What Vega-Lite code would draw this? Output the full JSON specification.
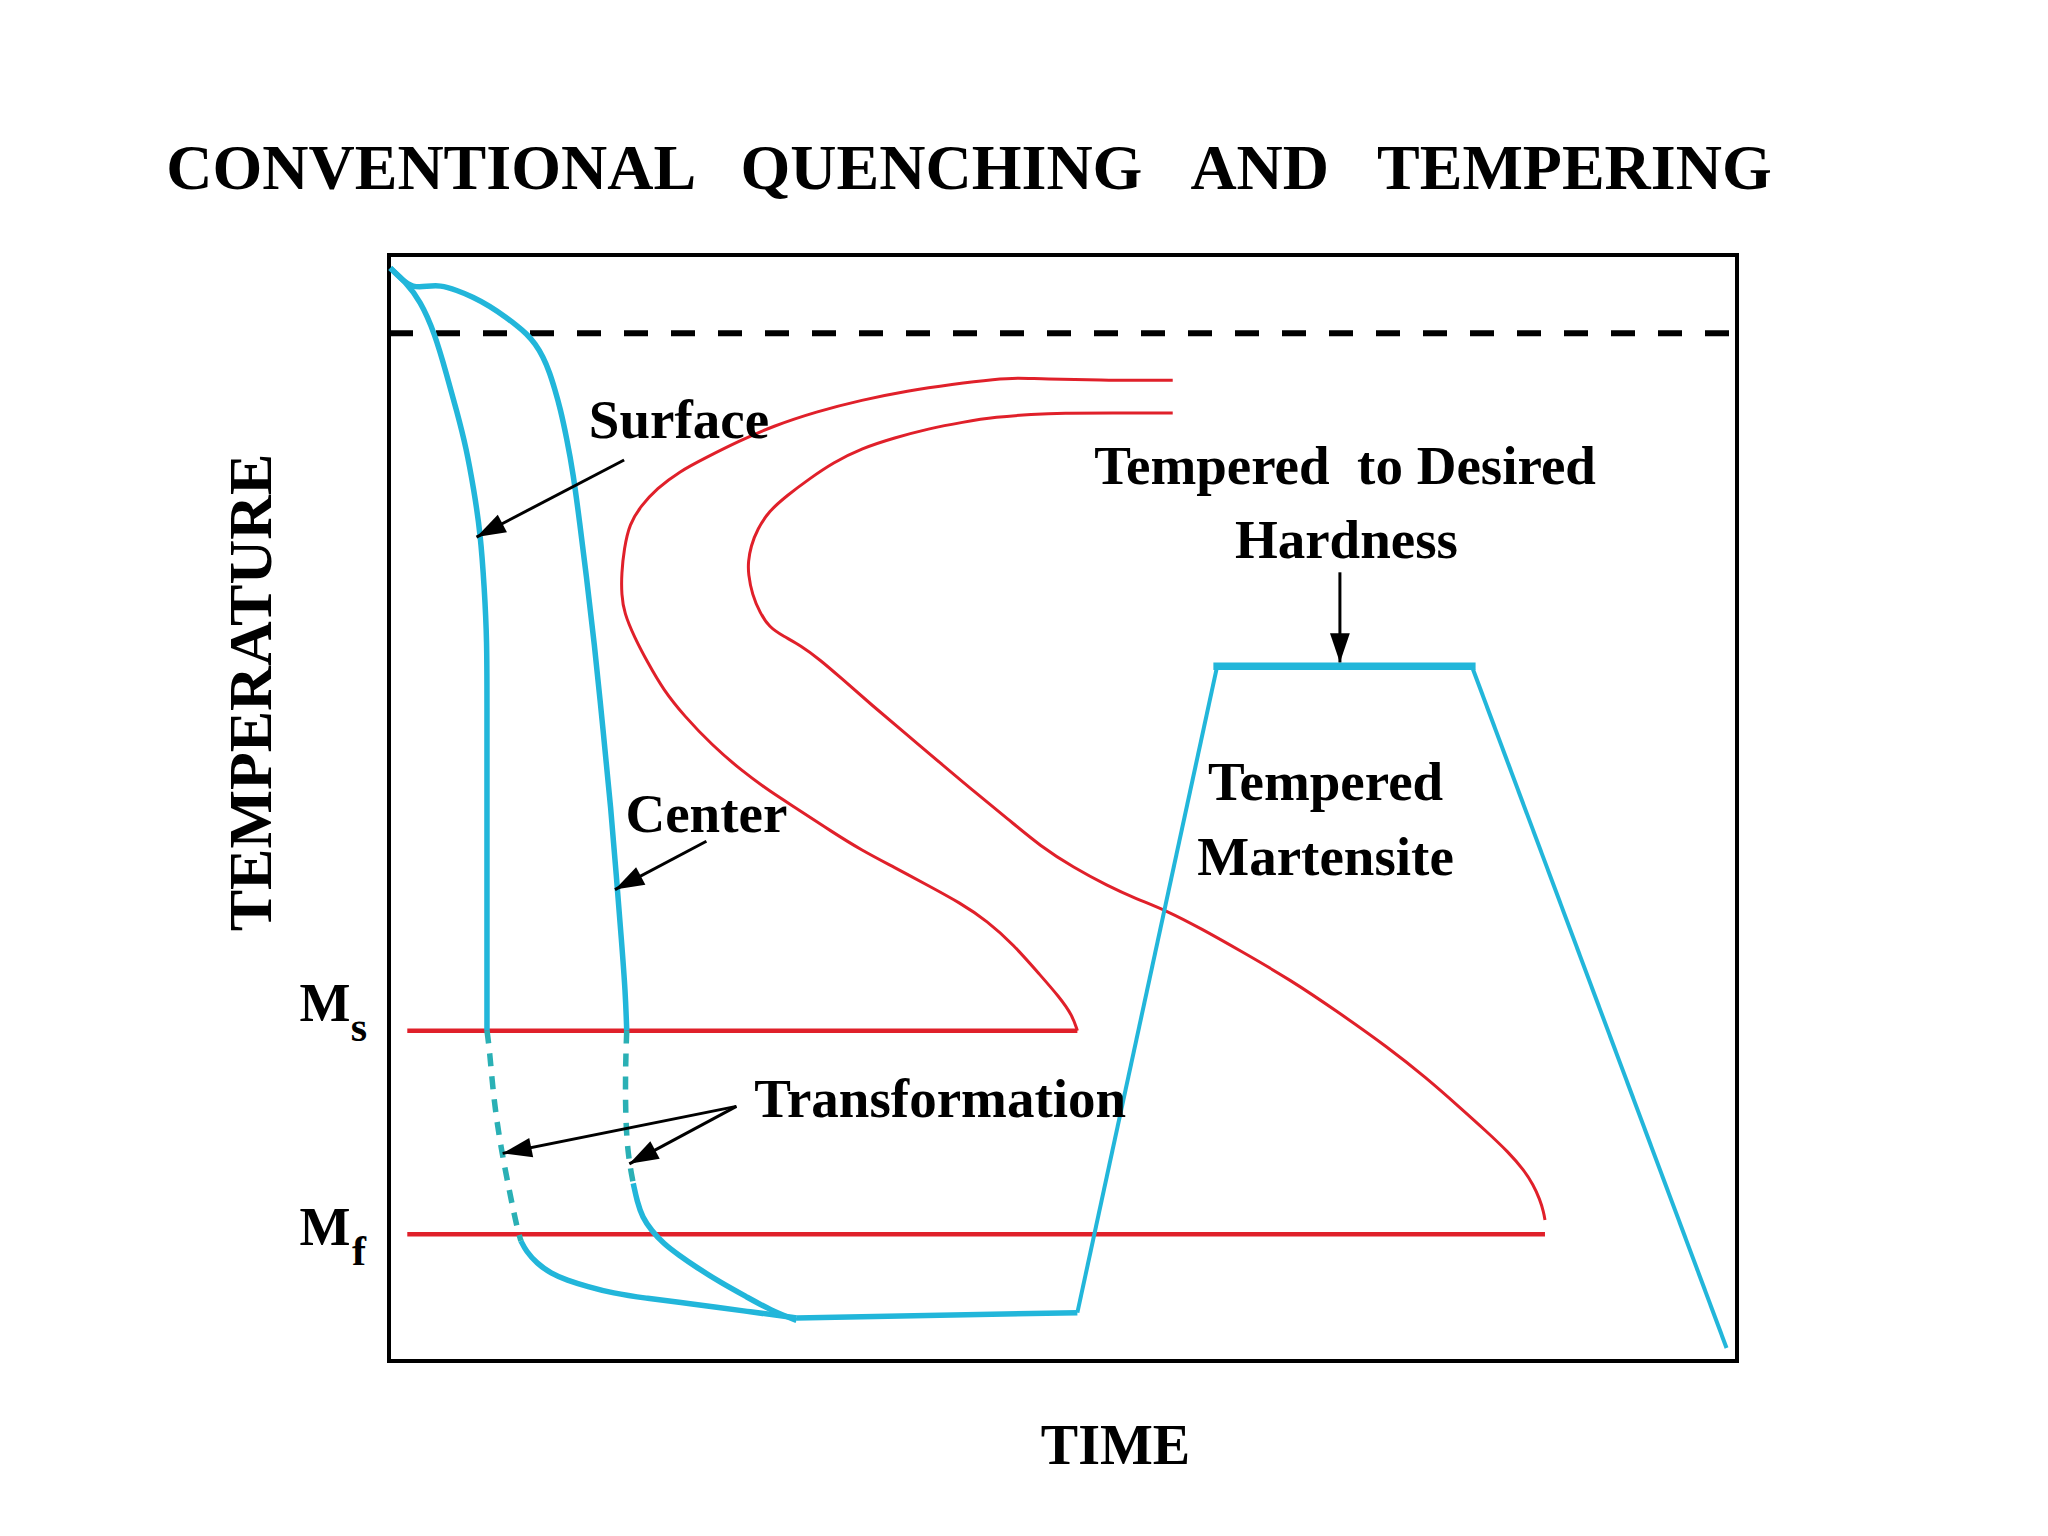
{
  "$schema": "https://vega.github.io/schema/vega-lite/v6.json",
  "width": 1348,
  "height": 1106,
  "autosize": {"type": "none"},
  "padding": {"left": 389, "top": 255, "right": 311, "bottom": 175},
  "background": "white",
  "title": {
    "text": "CONVENTIONAL \u2002QUENCHING \u2002AND \u2002TEMPERING",
    "font": "Liberation Serif",
    "fontSize": 64,
    "fontWeight": "bold",
    "color": "black",
    "anchor": "middle",
    "frame": "group",
    "dx": -94,
    "dy": 56,
    "offset": 58,
    "baseline": "alphabetic"
  },
  "config": {
    "view": {"stroke": "black", "strokeWidth": 4},
    "text": {"font": "Liberation Serif", "fontWeight": "bold", "color": "black"}
  },
  "datasets": {
    "curves": [
      {"series": "austenitizing", "i": 0, "time": 0, "temp": 787},
      {"series": "austenitizing", "i": 1, "time": 1032, "temp": 787},

      {"series": "surface", "i": 0, "time": 1, "temp": 837},
      {"series": "surface", "i": 1, "time": 12, "temp": 827},
      {"series": "surface", "i": 2, "time": 24, "temp": 812},
      {"series": "surface", "i": 3, "time": 35, "temp": 787},
      {"series": "surface", "i": 4, "time": 44, "temp": 756},
      {"series": "surface", "i": 5, "time": 52, "temp": 727},
      {"series": "surface", "i": 6, "time": 59, "temp": 700},
      {"series": "surface", "i": 7, "time": 65, "temp": 667},
      {"series": "surface", "i": 8, "time": 70, "temp": 634},
      {"series": "surface", "i": 9, "time": 73, "temp": 592},
      {"series": "surface", "i": 10, "time": 75, "temp": 552},
      {"series": "surface", "i": 11, "time": 75, "temp": 502},
      {"series": "surface", "i": 12, "time": 75, "temp": 442},
      {"series": "surface", "i": 13, "time": 75, "temp": 382},
      {"series": "surface", "i": 14, "time": 75, "temp": 315},
      {"series": "surface", "i": 15, "time": 75, "temp": 253},

      {"series": "surface_transforming", "i": 0, "time": 75, "temp": 253},
      {"series": "surface_transforming", "i": 1, "time": 77, "temp": 238},
      {"series": "surface_transforming", "i": 2, "time": 80, "temp": 202},
      {"series": "surface_transforming", "i": 3, "time": 85, "temp": 167},
      {"series": "surface_transforming", "i": 4, "time": 92, "temp": 131},
      {"series": "surface_transforming", "i": 5, "time": 98, "temp": 102},
      {"series": "surface_transforming", "i": 6, "time": 101, "temp": 92},

      {"series": "surface_cold", "i": 0, "time": 101, "temp": 92},
      {"series": "surface_cold", "i": 1, "time": 105, "temp": 84},
      {"series": "surface_cold", "i": 2, "time": 113, "temp": 75},
      {"series": "surface_cold", "i": 3, "time": 124, "temp": 67},
      {"series": "surface_cold", "i": 4, "time": 136, "temp": 62},
      {"series": "surface_cold", "i": 5, "time": 152, "temp": 57},
      {"series": "surface_cold", "i": 6, "time": 171, "temp": 52},
      {"series": "surface_cold", "i": 7, "time": 197, "temp": 48},
      {"series": "surface_cold", "i": 8, "time": 223, "temp": 45},
      {"series": "surface_cold", "i": 9, "time": 252, "temp": 41},
      {"series": "surface_cold", "i": 10, "time": 274, "temp": 38},
      {"series": "surface_cold", "i": 11, "time": 297, "temp": 35},
      {"series": "surface_cold", "i": 12, "time": 312, "temp": 33},

      {"series": "center", "i": 0, "time": 1, "temp": 837},
      {"series": "center", "i": 1, "time": 10, "temp": 828},
      {"series": "center", "i": 2, "time": 18, "temp": 822},
      {"series": "center", "i": 3, "time": 29, "temp": 823},
      {"series": "center", "i": 4, "time": 39, "temp": 824},
      {"series": "center", "i": 5, "time": 52, "temp": 820},
      {"series": "center", "i": 6, "time": 64, "temp": 815},
      {"series": "center", "i": 7, "time": 77, "temp": 808},
      {"series": "center", "i": 8, "time": 90, "temp": 799},
      {"series": "center", "i": 9, "time": 99, "temp": 792},
      {"series": "center", "i": 10, "time": 105, "temp": 787},
      {"series": "center", "i": 11, "time": 112, "temp": 779},
      {"series": "center", "i": 12, "time": 118, "temp": 769},
      {"series": "center", "i": 13, "time": 123, "temp": 757},
      {"series": "center", "i": 14, "time": 127, "temp": 744},
      {"series": "center", "i": 15, "time": 131, "temp": 730},
      {"series": "center", "i": 16, "time": 136, "temp": 707},
      {"series": "center", "i": 17, "time": 141, "temp": 680},
      {"series": "center", "i": 18, "time": 146, "temp": 642},
      {"series": "center", "i": 19, "time": 151, "temp": 602},
      {"series": "center", "i": 20, "time": 157, "temp": 552},
      {"series": "center", "i": 21, "time": 164, "temp": 482},
      {"series": "center", "i": 22, "time": 170, "temp": 422},
      {"series": "center", "i": 23, "time": 174, "temp": 372},
      {"series": "center", "i": 24, "time": 178, "temp": 322},
      {"series": "center", "i": 25, "time": 181, "temp": 282},
      {"series": "center", "i": 26, "time": 182, "temp": 253},

      {"series": "center_transforming", "i": 0, "time": 182, "temp": 253},
      {"series": "center_transforming", "i": 1, "time": 181, "temp": 225},
      {"series": "center_transforming", "i": 2, "time": 181, "temp": 187},
      {"series": "center_transforming", "i": 3, "time": 183, "temp": 157},
      {"series": "center_transforming", "i": 4, "time": 187, "temp": 136},

      {"series": "center_cold", "i": 0, "time": 187, "temp": 136},
      {"series": "center_cold", "i": 1, "time": 190, "temp": 122},
      {"series": "center_cold", "i": 2, "time": 194, "temp": 110},
      {"series": "center_cold", "i": 3, "time": 201, "temp": 100},
      {"series": "center_cold", "i": 4, "time": 210, "temp": 90},
      {"series": "center_cold", "i": 5, "time": 222, "temp": 81},
      {"series": "center_cold", "i": 6, "time": 235, "temp": 72},
      {"series": "center_cold", "i": 7, "time": 254, "temp": 60},
      {"series": "center_cold", "i": 8, "time": 274, "temp": 49},
      {"series": "center_cold", "i": 9, "time": 292, "temp": 39},
      {"series": "center_cold", "i": 10, "time": 312, "temp": 31},

      {"series": "hold", "i": 0, "time": 312, "temp": 33},
      {"series": "hold", "i": 1, "time": 527, "temp": 37},
      {"series": "reheat", "i": 0, "time": 527, "temp": 37},
      {"series": "reheat", "i": 1, "time": 634, "temp": 532},
      {"series": "temper", "i": 0, "time": 634, "temp": 532},
      {"series": "temper", "i": 1, "time": 829, "temp": 532},
      {"series": "cool", "i": 0, "time": 829, "temp": 532},
      {"series": "cool", "i": 1, "time": 1024, "temp": 10},

      {"series": "Ms", "i": 0, "time": 14, "temp": 253},
      {"series": "Ms", "i": 1, "time": 527, "temp": 253},
      {"series": "Mf", "i": 0, "time": 14, "temp": 97},
      {"series": "Mf", "i": 1, "time": 885, "temp": 97},

      {"series": "start", "i": 0, "time": 527, "temp": 253},
      {"series": "start", "i": 1, "time": 523, "temp": 265},
      {"series": "start", "i": 2, "time": 513, "temp": 279},
      {"series": "start", "i": 3, "time": 499, "temp": 295},
      {"series": "start", "i": 4, "time": 478, "temp": 319},
      {"series": "start", "i": 5, "time": 458, "temp": 337},
      {"series": "start", "i": 6, "time": 437, "temp": 351},
      {"series": "start", "i": 7, "time": 413, "temp": 364},
      {"series": "start", "i": 8, "time": 387, "temp": 378},
      {"series": "start", "i": 9, "time": 362, "temp": 391},
      {"series": "start", "i": 10, "time": 338, "temp": 406},
      {"series": "start", "i": 11, "time": 314, "temp": 422},
      {"series": "start", "i": 12, "time": 292, "temp": 436},
      {"series": "start", "i": 13, "time": 270, "temp": 452},
      {"series": "start", "i": 14, "time": 247, "temp": 472},
      {"series": "start", "i": 15, "time": 226, "temp": 494},
      {"series": "start", "i": 16, "time": 210, "temp": 514},
      {"series": "start", "i": 17, "time": 198, "temp": 535},
      {"series": "start", "i": 18, "time": 188, "temp": 554},
      {"series": "start", "i": 19, "time": 180, "temp": 573},
      {"series": "start", "i": 20, "time": 178, "temp": 587},
      {"series": "start", "i": 21, "time": 178, "temp": 603},
      {"series": "start", "i": 22, "time": 180, "temp": 622},
      {"series": "start", "i": 23, "time": 184, "temp": 641},
      {"series": "start", "i": 24, "time": 193, "temp": 655},
      {"series": "start", "i": 25, "time": 205, "temp": 668},
      {"series": "start", "i": 26, "time": 222, "temp": 681},
      {"series": "start", "i": 27, "time": 243, "temp": 692},
      {"series": "start", "i": 28, "time": 267, "temp": 704},
      {"series": "start", "i": 29, "time": 294, "temp": 716},
      {"series": "start", "i": 30, "time": 327, "temp": 727},
      {"series": "start", "i": 31, "time": 362, "temp": 736},
      {"series": "start", "i": 32, "time": 397, "temp": 743},
      {"series": "start", "i": 33, "time": 431, "temp": 748},
      {"series": "start", "i": 34, "time": 465, "temp": 752},
      {"series": "start", "i": 35, "time": 482, "temp": 753},
      {"series": "start", "i": 36, "time": 499, "temp": 752},
      {"series": "start", "i": 37, "time": 552, "temp": 751},
      {"series": "start", "i": 38, "time": 600, "temp": 751},

      {"series": "finish", "i": 0, "time": 600, "temp": 726},
      {"series": "finish", "i": 1, "time": 552, "temp": 726},
      {"series": "finish", "i": 2, "time": 516, "temp": 726},
      {"series": "finish", "i": 3, "time": 492, "temp": 725},
      {"series": "finish", "i": 4, "time": 465, "temp": 723},
      {"series": "finish", "i": 5, "time": 439, "temp": 719},
      {"series": "finish", "i": 6, "time": 413, "temp": 714},
      {"series": "finish", "i": 7, "time": 387, "temp": 707},
      {"series": "finish", "i": 8, "time": 362, "temp": 699},
      {"series": "finish", "i": 9, "time": 340, "temp": 688},
      {"series": "finish", "i": 10, "time": 321, "temp": 675},
      {"series": "finish", "i": 11, "time": 305, "temp": 663},
      {"series": "finish", "i": 12, "time": 291, "temp": 651},
      {"series": "finish", "i": 13, "time": 282, "temp": 637},
      {"series": "finish", "i": 14, "time": 277, "temp": 624},
      {"series": "finish", "i": 15, "time": 275, "temp": 612},
      {"series": "finish", "i": 16, "time": 275, "temp": 603},
      {"series": "finish", "i": 17, "time": 278, "temp": 587},
      {"series": "finish", "i": 18, "time": 284, "temp": 573},
      {"series": "finish", "i": 19, "time": 291, "temp": 562},
      {"series": "finish", "i": 20, "time": 302, "temp": 555},
      {"series": "finish", "i": 21, "time": 315, "temp": 548},
      {"series": "finish", "i": 22, "time": 330, "temp": 537},
      {"series": "finish", "i": 23, "time": 345, "temp": 524},
      {"series": "finish", "i": 24, "time": 370, "temp": 502},
      {"series": "finish", "i": 25, "time": 396, "temp": 480},
      {"series": "finish", "i": 26, "time": 422, "temp": 458},
      {"series": "finish", "i": 27, "time": 448, "temp": 436},
      {"series": "finish", "i": 28, "time": 474, "temp": 415},
      {"series": "finish", "i": 29, "time": 499, "temp": 394},
      {"series": "finish", "i": 30, "time": 524, "temp": 378},
      {"series": "finish", "i": 31, "time": 550, "temp": 364},
      {"series": "finish", "i": 32, "time": 572, "temp": 354},
      {"series": "finish", "i": 33, "time": 595, "temp": 345},
      {"series": "finish", "i": 34, "time": 622, "temp": 331},
      {"series": "finish", "i": 35, "time": 652, "temp": 314},
      {"series": "finish", "i": 36, "time": 690, "temp": 292},
      {"series": "finish", "i": 37, "time": 727, "temp": 267},
      {"series": "finish", "i": 38, "time": 765, "temp": 240},
      {"series": "finish", "i": 39, "time": 794, "temp": 217},
      {"series": "finish", "i": 40, "time": 820, "temp": 194},
      {"series": "finish", "i": 41, "time": 840, "temp": 176},
      {"series": "finish", "i": 42, "time": 857, "temp": 160},
      {"series": "finish", "i": 43, "time": 869, "temp": 146},
      {"series": "finish", "i": 44, "time": 876, "temp": 135},
      {"series": "finish", "i": 45, "time": 881, "temp": 124},
      {"series": "finish", "i": 46, "time": 884, "temp": 114},
      {"series": "finish", "i": 47, "time": 885, "temp": 108}
    ],
    "arrows": [
      {"target": "Surface", "time": 67, "temp": 631, "from_time": 180, "from_temp": 690},
      {"target": "Center", "time": 173, "temp": 361, "from_time": 243, "from_temp": 398},
      {"target": "Transformation (surface)", "time": 87, "temp": 159, "from_time": 266, "from_temp": 195},
      {"target": "Transformation (center)", "time": 184, "temp": 151, "from_time": 266, "from_temp": 195},
      {"target": "Desired hardness", "time": 728, "temp": 535, "from_time": 728, "from_temp": 604}
    ],
    "labels": [
      {"text": "Surface", "time": 222, "temp": 707},
      {"text": "Center", "time": 243, "temp": 405},
      {"text": "Transformation", "time": 422, "temp": 187},
      {"text": "Tempered\u2002to Desired", "time": 732, "temp": 672},
      {"text": "Hardness", "time": 733, "temp": 615},
      {"text": "Tempered", "time": 717, "temp": 430},
      {"text": "Martensite", "time": 717, "temp": 372}
    ],
    "martensite_temps": [
      {"sub": "s", "time": -49, "temp": 260},
      {"sub": "f", "time": -49, "temp": 89}
    ]
  },
  "encoding": {
    "x": {
      "field": "time",
      "type": "quantitative",
      "scale": {"domain": [0, 1032], "nice": false, "zero": false},
      "axis": {
        "title": "TIME",
        "domain": false,
        "ticks": false,
        "labels": false,
        "grid": false,
        "titleFont": "Liberation Serif",
        "titleFontSize": 56,
        "titleFontWeight": "bold",
        "titleColor": "black",
        "titleX": 726,
        "titleY": 102,
        "titleAlign": "center",
        "titleBaseline": "alphabetic"
      }
    },
    "y": {
      "field": "temp",
      "type": "quantitative",
      "scale": {"domain": [0, 847], "nice": false, "zero": false},
      "axis": {
        "title": "TEMPERATURE",
        "domain": false,
        "ticks": false,
        "labels": false,
        "grid": false,
        "titleFont": "Liberation Serif",
        "titleFontSize": 62,
        "titleFontWeight": "bold",
        "titleColor": "black",
        "titleAngle": -90,
        "titleX": -119,
        "titleY": 437,
        "titleAlign": "center",
        "titleBaseline": "alphabetic"
      }
    }
  },
  "layer": [
    {
      "data": {"name": "curves"},
      "transform": [{"filter": "datum.series === 'austenitizing'"}],
      "mark": {"type": "line", "color": "black", "strokeWidth": 6, "strokeDash": [24, 23]},
      "encoding": {"order": {"field": "i", "type": "quantitative"}}
    },
    {
      "data": {"name": "curves"},
      "transform": [{"filter": "datum.series === 'Ms' || datum.series === 'Mf'"}],
      "mark": {"type": "line", "color": "#e0202a", "strokeWidth": 4.5},
      "encoding": {"detail": {"field": "series"}, "order": {"field": "i", "type": "quantitative"}}
    },
    {
      "data": {"name": "curves"},
      "transform": [{"filter": "datum.series === 'start' || datum.series === 'finish'"}],
      "mark": {"type": "line", "color": "#e0202a", "strokeWidth": 3, "interpolate": "basis"},
      "encoding": {"detail": {"field": "series"}, "order": {"field": "i", "type": "quantitative"}}
    },
    {
      "data": {"name": "curves"},
      "transform": [{"filter": "datum.series === 'surface' || datum.series === 'surface_cold' || datum.series === 'center' || datum.series === 'center_cold'"}],
      "mark": {"type": "line", "color": "#22b6da", "strokeWidth": 5.5, "interpolate": "basis"},
      "encoding": {"detail": {"field": "series"}, "order": {"field": "i", "type": "quantitative"}}
    },
    {
      "data": {"name": "curves"},
      "transform": [{"filter": "datum.series === 'surface_transforming' || datum.series === 'center_transforming'"}],
      "mark": {"type": "line", "color": "#2ab0b5", "strokeWidth": 5.5, "strokeDash": [13, 10], "interpolate": "basis"},
      "encoding": {"detail": {"field": "series"}, "order": {"field": "i", "type": "quantitative"}}
    },
    {
      "data": {"name": "curves"},
      "transform": [{"filter": "datum.series === 'hold'"}],
      "mark": {"type": "line", "color": "#22b6da", "strokeWidth": 5.5},
      "encoding": {"order": {"field": "i", "type": "quantitative"}}
    },
    {
      "data": {"name": "curves"},
      "transform": [{"filter": "datum.series === 'reheat' || datum.series === 'cool'"}],
      "mark": {"type": "line", "color": "#22b6da", "strokeWidth": 4},
      "encoding": {"detail": {"field": "series"}, "order": {"field": "i", "type": "quantitative"}}
    },
    {
      "data": {"name": "curves"},
      "transform": [{"filter": "datum.series === 'temper'"}],
      "mark": {"type": "line", "color": "#22b6da", "strokeWidth": 7.5, "strokeCap": "square"},
      "encoding": {"order": {"field": "i", "type": "quantitative"}}
    },
    {
      "data": {"name": "arrows"},
      "mark": {"type": "rule", "color": "black", "strokeWidth": 3},
      "encoding": {
        "x2": {"field": "from_time"},
        "y2": {"field": "from_temp"}
      }
    },
    {
      "data": {"name": "arrows"},
      "transform": [
        {"calculate": "atan2(datum.time - datum.from_time, datum.temp - datum.from_temp) * 180 / PI", "as": "heading"}
      ],
      "mark": {
        "type": "point",
        "shape": "M0,0 L-0.34,1 L0.34,1 Z",
        "filled": true,
        "color": "black",
        "opacity": 1,
        "size": 3400
      },
      "encoding": {
        "angle": {"field": "heading", "type": "quantitative", "scale": null}
      }
    },
    {
      "data": {"name": "labels"},
      "mark": {"type": "text", "fontSize": 55, "align": "center", "baseline": "alphabetic"},
      "encoding": {"text": {"field": "text"}}
    },
    {
      "data": {"name": "martensite_temps"},
      "mark": {"type": "text", "fontSize": 54, "align": "center", "baseline": "alphabetic"},
      "encoding": {"text": {"value": "M"}}
    },
    {
      "data": {"name": "martensite_temps"},
      "mark": {"type": "text", "fontSize": 42, "align": "center", "baseline": "alphabetic", "dx": 34, "dy": 20},
      "encoding": {"text": {"field": "sub"}}
    }
  ]
}
